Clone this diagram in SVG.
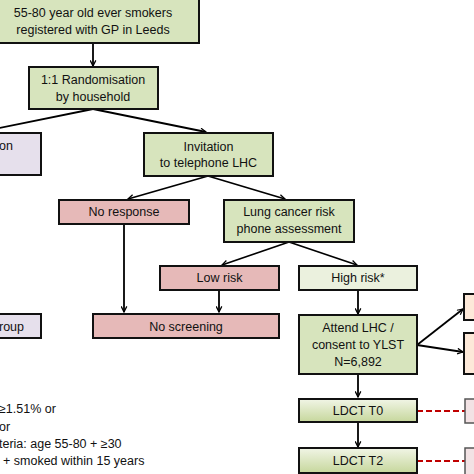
<svg xmlns="http://www.w3.org/2000/svg" width="474" height="474" viewBox="0 0 474 474">
<defs>
<linearGradient id="ldct" x1="0" y1="0" x2="0" y2="1">
<stop offset="0" stop-color="#f1f5e6"/>
<stop offset="1" stop-color="#c6d79c"/>
</linearGradient>
<marker id="arr" viewBox="0 0 10 10" refX="9" refY="5" markerWidth="7" markerHeight="7" orient="auto" markerUnits="userSpaceOnUse">
<path d="M1,1 L9,5 L1,9" fill="none" stroke="#000" stroke-width="1.8"/>
</marker>
</defs>
<style>
text{font-family:"Liberation Sans",Arial,sans-serif;font-size:12.5px;fill:#111;}
.c{text-anchor:middle;}
.box{stroke:#111;stroke-width:2;}
.g{fill:#d7e4bd;}
.lg{fill:#ebf1de;}
.p{fill:#e6b9b8;}
.pu{fill:#e6e0ec;}
.pe{fill:#fde9d9;}
.pk{fill:#f2e2e4;stroke:#555;stroke-width:1.5;}
.ld{fill:url(#ldct);}
.con{stroke:#000;stroke-width:1.8;fill:none;marker-end:url(#arr);}
.dash{stroke:#c00000;stroke-width:2.2;stroke-dasharray:6,3;fill:none;}
</style>
<rect width="474" height="474" fill="#fff"/>
<g id="connectors">
<line class="con" x1="93" y1="43" x2="93" y2="66"/>
<line class="con" x1="93" y1="109" x2="-30" y2="134"/>
<line class="con" x1="93" y1="109" x2="206" y2="132"/>
<line class="con" x1="208" y1="176" x2="128" y2="199"/>
<line class="con" x1="208" y1="176" x2="285" y2="199"/>
<line class="con" x1="124" y1="224" x2="124" y2="312"/>
<line class="con" x1="289" y1="242" x2="222" y2="265"/>
<line class="con" x1="289" y1="242" x2="357" y2="265"/>
<line class="con" x1="219" y1="290" x2="219" y2="312"/>
<line class="con" x1="358" y1="290" x2="358" y2="314"/>
<line class="con" x1="417" y1="345" x2="463" y2="309"/>
<line class="con" x1="417" y1="345" x2="463" y2="352"/>
<line class="con" x1="358" y1="374" x2="358" y2="397"/>
<line class="con" x1="358" y1="422" x2="358" y2="447"/>
<line class="dash" x1="417" y1="411" x2="465" y2="411"/>
<line class="dash" x1="417" y1="461" x2="465" y2="461"/>
</g>
<g id="n-population">
<rect class="box g" x="-13" y="-5" width="212" height="48"/>
<text class="c" x="93" y="17">55-80 year old ever smokers</text>
<text class="c" x="93" y="34">registered with GP in Leeds</text>
</g>
<g id="n-random">
<rect class="box g" x="29" y="67" width="129" height="42"/>
<text class="c" x="93" y="84">1:1 Randomisation</text>
<text class="c" x="93" y="101">by household</text>
</g>
<g id="n-control">
<rect class="box pu" x="-10" y="133" width="51" height="42"/>
<text x="-1" y="150">on</text>
</g>
<g id="n-invite">
<rect class="box g" x="144" y="133" width="129" height="43"/>
<text class="c" x="208.5" y="151">Invitation</text>
<text class="c" x="208.5" y="167">to telephone LHC</text>
</g>
<g id="n-noresponse">
<rect class="box p" x="59" y="200" width="130" height="24"/>
<text class="c" x="124" y="216">No response</text>
</g>
<g id="n-risk">
<rect class="box g" x="224" y="200" width="130" height="42"/>
<text class="c" x="289" y="216">Lung cancer risk</text>
<text class="c" x="289" y="233">phone assessment</text>
</g>
<g id="n-lowrisk">
<rect class="box p" x="160" y="266" width="119" height="24"/>
<text class="c" x="219.5" y="282">Low risk</text>
</g>
<g id="n-highrisk">
<rect class="box lg" x="299" y="266" width="118" height="24"/>
<text class="c" x="358" y="282">High risk*</text>
</g>
<g id="n-group">
<rect class="box pu" x="-10" y="314" width="51" height="24"/>
<text x="-1" y="331">roup</text>
</g>
<g id="n-noscreening">
<rect class="box p" x="93" y="314" width="186" height="24"/>
<text class="c" x="186" y="331">No screening</text>
</g>
<g id="n-attend">
<rect class="box g" x="299" y="315" width="118" height="59"/>
<text class="c" x="358" y="332">Attend LHC /</text>
<text class="c" x="358" y="349">consent to YLST</text>
<text class="c" x="358" y="366">N=6,892</text>
</g>
<g id="n-ldct0">
<rect class="box ld" x="299" y="399" width="118" height="23"/>
<text class="c" x="358" y="415">LDCT T0</text>
</g>
<g id="n-ldct2">
<rect class="box ld" x="299" y="448" width="118" height="25"/>
<text class="c" x="358" y="465">LDCT T2</text>
</g>
<g id="n-right1">
<rect class="box pe" x="464" y="294" width="30" height="26"/>
</g>
<g id="n-right2">
<rect class="box pe" x="464" y="333" width="30" height="41"/>
</g>
<g id="n-right3">
<rect class="pk" x="465" y="399" width="30" height="24"/>
</g>
<g id="n-right4">
<rect class="pk" x="465" y="448" width="30" height="30"/>
</g>
<g id="footnote">
<text x="-1" y="413">≥1.51% or</text>
<text x="-1" y="431">or</text>
<text x="-1" y="448">teria: age 55-80 + ≥30</text>
<text x="3" y="465">+ smoked within 15 years</text>
</g>
</svg>
